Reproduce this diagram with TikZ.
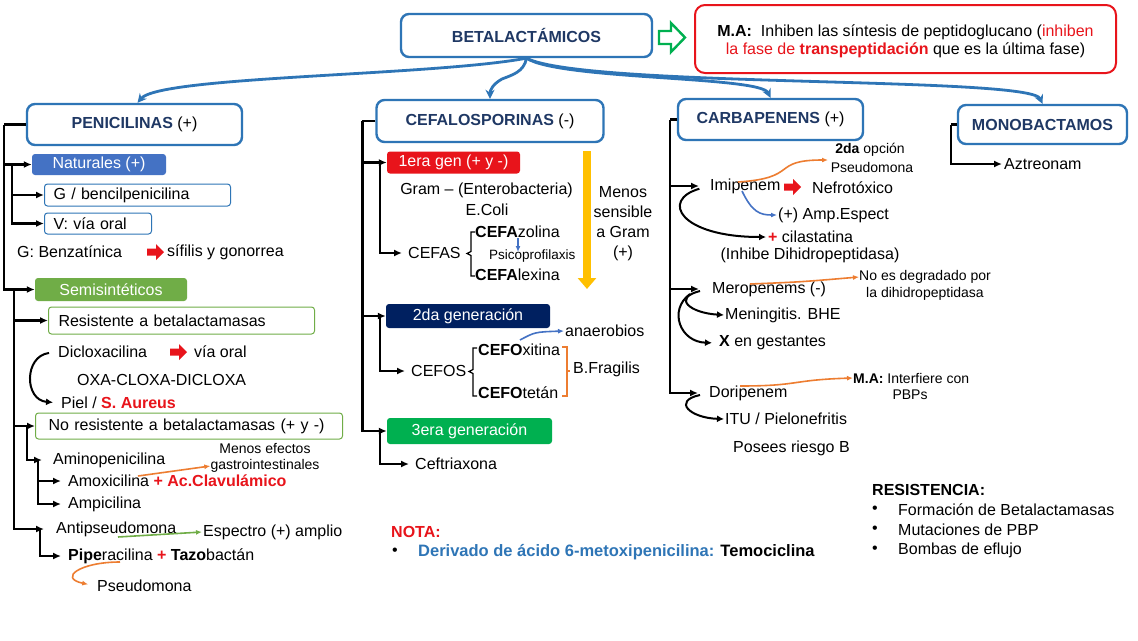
\documentclass[tikz,border=0pt]{standalone}
\usepackage{fontspec}
\setmainfont{Liberation Sans}
\usetikzlibrary{arrows.meta}
\definecolor{bblue}{HTML}{2E75B6}
\definecolor{navy}{HTML}{1F3864}
\definecolor{natblue}{HTML}{4472C4}
\definecolor{sgreen}{HTML}{70AD47}
\definecolor{gen3}{HTML}{00B050}
\definecolor{gen2}{HTML}{002060}
\definecolor{myred}{HTML}{E8141B}
\definecolor{orng}{HTML}{ED7D31}
\definecolor{yel}{HTML}{FFC000}
\definecolor{arrgreen}{HTML}{00B050}
\definecolor{notablue}{HTML}{2E75B6}
\newcommand\fz[1]{\fontsize{#1}{#1}\selectfont}
\tikzset{
 redarr/.pic={\fill[myred] (0,-3.5) -- (9,-3.5) -- (9,-8) -- (17,0) -- (9,8) -- (9,3.5) -- (0,3.5) -- cycle;},
}
\begin{document}
\begin{tikzpicture}[x=1pt,y=-1pt,
 mainbox/.style={draw=bblue,line width=2.4pt,rounded corners=8pt,fill=white,text=navy,font=\fz{16}\bfseries,inner sep=0pt},
 fillbox/.style={rounded corners=3pt,text=white,font=\fz{16},inner sep=0pt},
 linebox/.style={rounded corners=3pt,line width=1pt,inner ysep=0pt,anchor=west,align=left,font=\fz{16}},
 txt/.style={anchor=west,inner sep=1pt,font=\fz{16}},
 ctxt/.style={inner sep=1pt,font=\fz{16}},
 sm/.style={inner sep=0pt,font=\fz{14}},
 ln/.style={line width=2.4pt},
 arr/.style={line width=2.4pt,-{Latex[length=8pt,width=7pt]}},
 carr/.style={line width=2pt,-{Latex[length=7pt,width=7pt]}},
 oarr/.style={orng,line width=1.6pt,-{Latex[length=6pt,width=5pt]}},
 barr/.style={natblue,line width=1.6pt,-{Latex[length=6pt,width=5pt]}},
 garr/.style={sgreen,line width=1.6pt,-{Latex[length=6pt,width=5pt]}},
 topc/.style={bblue,line width=2.8pt,-{Stealth[length=9pt,width=9pt]}},
]
\useasboundingbox[fill=white] (0,0) rectangle (1138,640);

% ---------- top ----------
\node[mainbox,minimum width=251pt,minimum height=43pt] (beta) at (526.5,35.5) {BETALACTÁMICOS};
\draw[arrgreen,line width=2.4pt,fill=white,line join=miter] (659,31) -- (671,31) -- (671,23) -- (685,37.5) -- (671,52) -- (671,44) -- (659,44) -- cycle;
\node[draw=myred,line width=2pt,rounded corners=10pt,minimum width=421pt,minimum height=68pt,inner sep=0pt] (ma) at (905.5,39) {};
\node[font=\fontsize{16}{18}\selectfont,align=center,inner sep=0pt] (matxt) at (905.5,41)
 {\textbf{M.A:}\ \ Inhiben las síntesis de peptidoglucano (\textcolor{myred}{inhiben}\\
  \textcolor{myred}{la fase de \textbf{transpeptidación}} que es la última fase)};

\node[mainbox,minimum width=215pt,minimum height=41pt] (pen) at (134.5,124.5) {PENICILINAS \textcolor{black}{\mdseries(+)}};
\node[mainbox,minimum width=227pt,minimum height=42pt] (cef) at (490,121) {CEFALOSPORINAS \textcolor{black}{\mdseries(-)}};
\node[mainbox,minimum width=185pt,minimum height=41pt] (car) at (770.5,119.5) {CARBAPENENS \textcolor{black}{\mdseries(+)}};
\node[mainbox,minimum width=169pt,minimum height=39pt] (mono) at (1042.5,124.5) {MONOBACTAMOS};

\coordinate (cefmid) at (502,79);
\draw[topc] (beta.south) .. controls (430,76) and (160,76) .. ([xshift=3pt]pen.north);
\draw[topc] (beta.south) .. controls (524,72) and (512,75) .. (cefmid) .. controls (493,84) and (490,90) .. (cef.north);
\draw[topc] (beta.south) .. controls (560,80) and (760,76) .. (car.north);
\draw[topc] (beta.south) .. controls (585,88) and (1030,76) .. (mono.north);

% ---------- PENICILINAS ----------
\node[fillbox,fill=natblue,minimum width=134pt,minimum height=21pt] (nat) at (99,164.5) {Naturales (+)};
\node[linebox,draw=bblue,text width=168pt,inner xsep=9pt,minimum height=22pt] (gb) at (44,195) {G / bencilpenicilina};
\node[linebox,draw=bblue,text width=89pt,inner xsep=9pt,minimum height=21pt] (vo) at (44,223.5) {V: vía oral};
\node[txt] (benz) at (16,252) {G: Benzatínica};
\pic at (147,252) {redarr};
\node[txt] (sif) at (166,252) {sífilis y gonorrea};
\node[fillbox,fill=sgreen,minimum width=152pt,minimum height=23pt] (sem) at (111,289.5) {Semisintéticos};
\node[linebox,draw=sgreen,text width=246pt,inner xsep=10pt,minimum height=27pt] (res) at (48,320.5) {Resistente a betalactamasas};
\node[txt] (dic) at (57,352) {Dicloxacilina};
\pic at (170,352) {redarr};
\node[txt] (vor) at (193,352) {vía oral};
\node[txt] (oxa) at (76,380) {OXA-CLOXA-DICLOXA};
\node[txt] (piel) at (60,403) {Piel / \textcolor{myred}{\textbf{S. Aureus}}};
\node[linebox,draw=sgreen,text width=281pt,inner xsep=13pt,minimum height=26pt] (nores) at (35,426) {No resistente a betalactamasas (+ y -)};
\node[txt] (amino) at (52,460) {Aminopenicilina};
\node[txt] (amox) at (67,481) {Amoxicilina \textcolor{myred}{\textbf{+ Ac.Clavulámico}}};
\node[txt] (ampi) at (67,504) {Ampicilina};
\node[txt] (anti) at (55,529) {Antipseudomona};
\node[txt] (esp) at (202,532) {Espectro (+) amplio};
\node[txt] (pipe) at (67,556) {\textbf{Pipe}racilina \textcolor{myred}{\textbf{+}} \textbf{Tazo}bactán};
\node[txt] (pseu) at (96,586) {Pseudomona};
\node[sm] (men1) at (265,448) {Menos efectos};
\node[sm] (men2) at (265,466) {gastrointestinales};

\draw[ln] (pen.west) -- ++(-22,0) coordinate (pt);
\draw[arr] (pt) |- (nat.west);
\draw[arr] (pt) |- (sem.west);
\coordinate (n2) at (12,164.5);
\draw[arr] (n2) |- (gb.west);
\draw[arr] (n2) |- (vo.west);
\coordinate (s2) at (14,289.5);
\draw[arr] (s2) |- (res.west);
\draw[arr] (s2) |- (nores.west);
\draw[arr,shorten >=11pt] (s2) |- (anti.west);
\coordinate (nr2) at (27,426);
\draw[arr,shorten >=10pt] (nr2) |- (amino.west);
\coordinate (am2) at (38,460);
\draw[arr,shorten >=6pt] (am2) |- (amox.west);
\draw[arr,shorten >=6pt] (am2) |- (ampi.west);
\coordinate (an2) at (40,529);
\draw[arr,shorten >=6pt] (an2) |- (pipe.west);
\draw[carr,shorten <=8pt,shorten >=7pt] (dic.west) .. controls (24,356) and (24,400) .. (piel.west);
\coordinate (o1) at (138,476);
\draw[oarr] (o1) -- (men2.west);
\coordinate (g1s) at (118,537);
\draw[garr] (g1s) -- (esp.west);
\coordinate (o2) at (120,562);
\draw[oarr,shorten >=8pt] (o2) .. controls (80,562) and (58,578) .. (pseu.west);

% ---------- CEFALOSPORINAS ----------
\node[fillbox,fill=myred,minimum width=133pt,minimum height=22pt] (g1) at (453.5,162.5) {1era gen (+ y -)};
\node[fillbox,fill=gen2,minimum width=164pt,minimum height=24pt] (g2) at (468,316) {2da generación};
\node[fillbox,fill=gen3,minimum width=165pt,minimum height=26pt] (g3) at (469.5,431) {3era generación};
\draw[ln] (cef.west) -- ++(-13,0) coordinate (ct);
\draw[arr] (ct) |- (g1.west);
\draw[arr] (ct) |- (g2.west);
\draw[arr] (ct) |- (g3.west);

\node[ctxt] (gram) at (486.5,190) {Gram – (Enterobacteria)};
\node[ctxt] (ecoli) at (487,210) {E.Coli};
\node[txt] (cefas) at (407,253) {CEFAS};
\node[txt] (czo) at (474,232) {\textbf{CEFA}zolina};
\node[txt] (cle) at (474,275) {\textbf{CEFA}lexina};
\node[sm,anchor=west,font=\fz{13.5}] (psic) at (489,256) {Psicoprofilaxis};
\coordinate (c1) at (380,162.5);
\draw[arr,shorten >=5pt] (c1) |- (cefas.west);
\draw[line width=1.3pt] (475,232) -- (471,232) -- (471,251.5) -- (467,253.5) -- (471,255.5) -- (471,276) -- (475,276);
\coordinate (bl1) at (518,238);
\coordinate (bl2) at (518,252);
\draw[barr] (bl1) -- (bl2);
\coordinate (y1) at (587,151);
\coordinate (y2) at (587,289);
\draw[yel,line width=8pt,-{Triangle[width=18pt,length=11pt]}] (y1) -- (y2);
\node[ctxt] (ms1) at (623,192) {Menos};
\node[ctxt] (ms2) at (623,212) {sensible};
\node[ctxt] (ms3) at (623,232) {a Gram};
\node[ctxt] (ms4) at (623,253) {(+)};

\coordinate (c2) at (380,316);
\node[txt] (cefos) at (410,371) {CEFOS};
\draw[arr,shorten >=5pt] (c2) |- (cefos.west);
\node[txt] (cfx) at (477,350) {\textbf{CEFO}xitina};
\node[txt] (cft) at (477,393) {\textbf{CEFO}tetán};
\draw[line width=1.3pt] (477,348) -- (473,348) -- (473,369.5) -- (469,371.5) -- (473,373.5) -- (473,396) -- (477,396);
\node[txt] (anaer) at (564,331) {anaerobios};
\node[txt] (bfrag) at (572,369) {B.Fragilis};
\coordinate (bl3) at (520,340);
\draw[barr] (bl3) .. controls (535,332) .. (anaer.west);
\draw[orng,line width=1.2pt] (562,347) -- (567,347) -- (567,396) -- (562,396);
\draw[orng,line width=1.2pt] (567,371) -- (570,371);

\coordinate (c3) at (380,431);
\node[txt] (ceft) at (414,464) {Ceftriaxona};
\draw[arr,shorten >=5pt] (c3) |- (ceft.west);

% ---------- CARBAPENENS ----------
\draw[ln] (car.west) -- ++(-7,0) coordinate (kt);
\node[txt] (imi) at (709,186) {Imipenem};
\node[txt] (mero) at (711,289) {Meropenems (-)};
\node[txt] (dori) at (708,393) {Doripenem};
\draw[arr,shorten >=10pt] (kt) |- (imi.west);
\draw[arr,shorten >=12pt] (kt) |- (mero.west);
\draw[arr,shorten >=10pt] (kt) |- (dori.west);
\pic at (784,187) {redarr};
\node[txt] (nef) at (811,188) {Nefrotóxico};
\node[sm] (opc) at (870,150) {\textbf{2da} opción};
\node[sm] (pse) at (872,167) {Pseudomona};
\coordinate (o3) at (738,182);
\coordinate (o3e) at (828,160);
\draw[oarr] (o3) .. controls (800,178) and (770,160) .. (o3e);
\node[txt] (amp) at (777,215) {(+) Amp.Espect};
\coordinate (b4) at (742,191);
\draw[barr] (b4) .. controls (752,212) and (760,215) .. (amp.west);
\node[txt] (cil) at (767,237) {\textcolor{myred}{\textbf{+}} cilastatina};
\draw[carr,shorten <=10pt,shorten >=1pt] (imi.west) .. controls (660,200) and (680,237) .. (cil.west);
\node[ctxt] (inh) at (810,255) {(Inhibe Dihidropeptidasa)};
\node[sm] (noes1) at (925,277) {No es degradado por};
\node[sm] (noes2) at (925,294) {la dihidropeptidasa};
\coordinate (o4) at (750,284);
\draw[oarr] (o4) .. controls (800,282) .. (noes1.west);
\node[txt] (meng) at (724,315) {Meningitis. BHE};
\node[txt] (xg) at (718,343) {\textbf{X} en gestantes};
\coordinate (m1) at (700,291);
\draw[carr] (m1) .. controls (672,298) and (690,313) .. (meng.west);
\coordinate (m2) at (690,294);
\draw[carr,shorten >=6pt] (m2) .. controls (668,310) and (680,342) .. (xg.west);
\node[txt] (itu) at (724,419) {ITU / Pielonefritis};
\coordinate (d1) at (700,395);
\draw[carr] (d1) .. controls (672,401) and (690,418) .. (itu.west);
\node[txt] (pos) at (732,448) {Posees riesgo B};
\node[sm,anchor=west] (mai) at (853,378) {\textbf{M.A:} Interfiere con};
\node[sm] (pbp) at (910,395) {PBPs};
\coordinate (o5) at (740,386);
\draw[oarr] (o5) .. controls (800,386) and (790,380) .. (mai.west);

% ---------- MONOBACTAMOS ----------
\draw[ln] (mono.west) -- ++(-6,0) coordinate (mt);
\node[txt] (azt) at (1003,164) {Aztreonam};
\draw[arr,shorten >=1pt] (mt) |- (azt.west);

% ---------- notes ----------
\node[txt,text=myred,font=\fz{16}\bfseries] (nota) at (390,532) {NOTA:};
\node[txt] (nb) at (391,552) {•};
\node[txt,font=\fz{16.5}\bfseries] (deriv) at (417,552) {\textcolor{notablue}{Derivado de ácido 6-metoxipenicilina:} Temociclina};
\node[txt,font=\fz{16}\bfseries] (resi) at (871,490) {RESISTENCIA:};
\node[txt] (rb1) at (871,510) {•};
\node[txt] (rb2) at (871,530) {•};
\node[txt] (rb3) at (871,550) {•};
\node[txt] (r1) at (897,510) {Formación de Betalactamasas};
\node[txt] (r2) at (897,530) {Mutaciones de PBP};
\node[txt] (r3) at (897,550) {Bombas de eflujo};
\end{tikzpicture}
\end{document}
